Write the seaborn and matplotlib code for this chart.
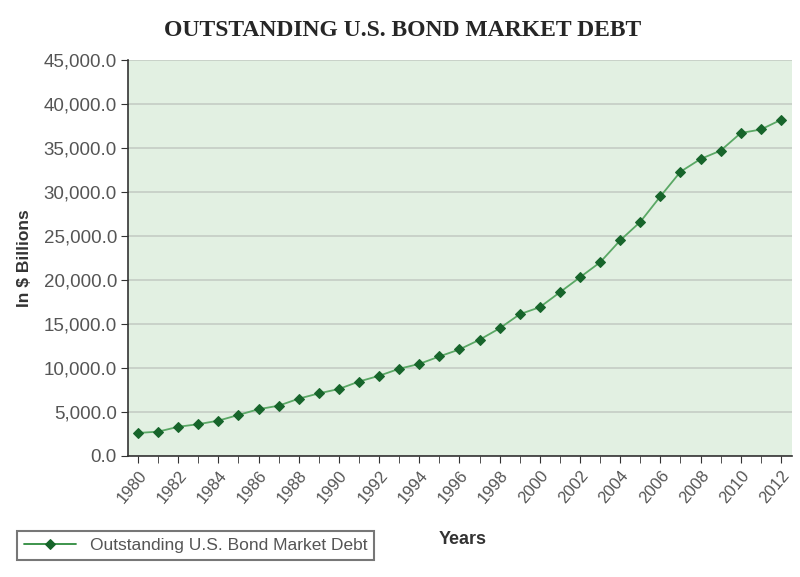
import numpy as np
import pandas as pd
import seaborn as sns
import matplotlib.pyplot as plt
from matplotlib.ticker import MultipleLocator, FuncFormatter

years = list(range(1980, 2013))
debt = [2600, 2750, 3300, 3600, 4000, 4650, 5300, 5700, 6500, 7100,
        7600, 8450, 9100, 9900, 10450, 11300, 12100, 13200, 14500, 16100,
        16900, 18600, 20300, 22000, 24500, 26600, 29500, 32300, 33750, 34700,
        36700, 37100, 38200]
series_name = "Outstanding U.S. Bond Market Debt"

data = pd.DataFrame({"Year": years, "Debt": debt})

sns.set_style("white")
plt.rcParams['font.family'] = ['Liberation Sans', 'DejaVu Sans']

fig = plt.figure(figsize=(8, 5.77), dpi=100)
ax = fig.add_axes([0.16, 0.21, 0.83, 0.686])
ax.set_facecolor("#e2f0e2")

sns.lineplot(x="Year", y="Debt", data=data, ax=ax, color="#5aa865",
             linewidth=1.3, marker="D", markersize=5,
             markerfacecolor="#17652b", markeredgecolor="#17652b",
             label=series_name, legend=False)

ax.set_xlim(1979.5, 2012.55)
ax.set_ylim(0, 45000)
ax.yaxis.set_major_locator(MultipleLocator(5000))
ax.yaxis.set_major_formatter(FuncFormatter(lambda v, p: f"{v:,.1f}"))
ax.set_xticks(years[::2])
ax.set_xticks(years, minor=True)
ax.grid(axis="y", color="#c4cdc4", linewidth=1.2)
ax.set_axisbelow(True)

for s in ["top", "right"]:
    ax.spines[s].set_visible(False)
for s in ["left", "bottom"]:
    ax.spines[s].set_color("#333333")
    ax.spines[s].set_linewidth(1.2)

ax.tick_params(axis="both", which="both", direction="out", color="#333333",
               bottom=True, left=True)
ax.tick_params(axis="y", length=5, labelsize=13.5, labelcolor="#555555", pad=3)
ax.tick_params(axis="x", which="major", length=5, labelsize=12,
               labelcolor="#555555")
ax.tick_params(axis="x", which="minor", length=5)
plt.setp(ax.get_xticklabels(), rotation=50, ha="right", rotation_mode="anchor")

ax.set_xlabel("")
ax.set_ylabel("In $ Billions", fontsize=12.5, fontweight="bold",
              color="#333333", labelpad=8)
fig.text(0.578, 0.065, "Years", ha="center", va="center", fontsize=13,
         fontweight="bold", color="#333333")
fig.suptitle("OUTSTANDING U.S. BOND MARKET DEBT", x=0.503, y=0.966,
             fontsize=17, fontweight="bold", family=["Liberation Serif"])

leg = fig.legend(loc="lower left", bbox_to_anchor=(0.01, 0.015), frameon=True,
                 fancybox=False, fontsize=12.5, labelcolor="#555555",
                 handlelength=3)
leg.get_frame().set_edgecolor("#555555")
leg.get_frame().set_linewidth(1.5)
for h in leg.legend_handles:
    h.set_color("#2e8b3e")

fig.savefig("out.png", dpi=100)
